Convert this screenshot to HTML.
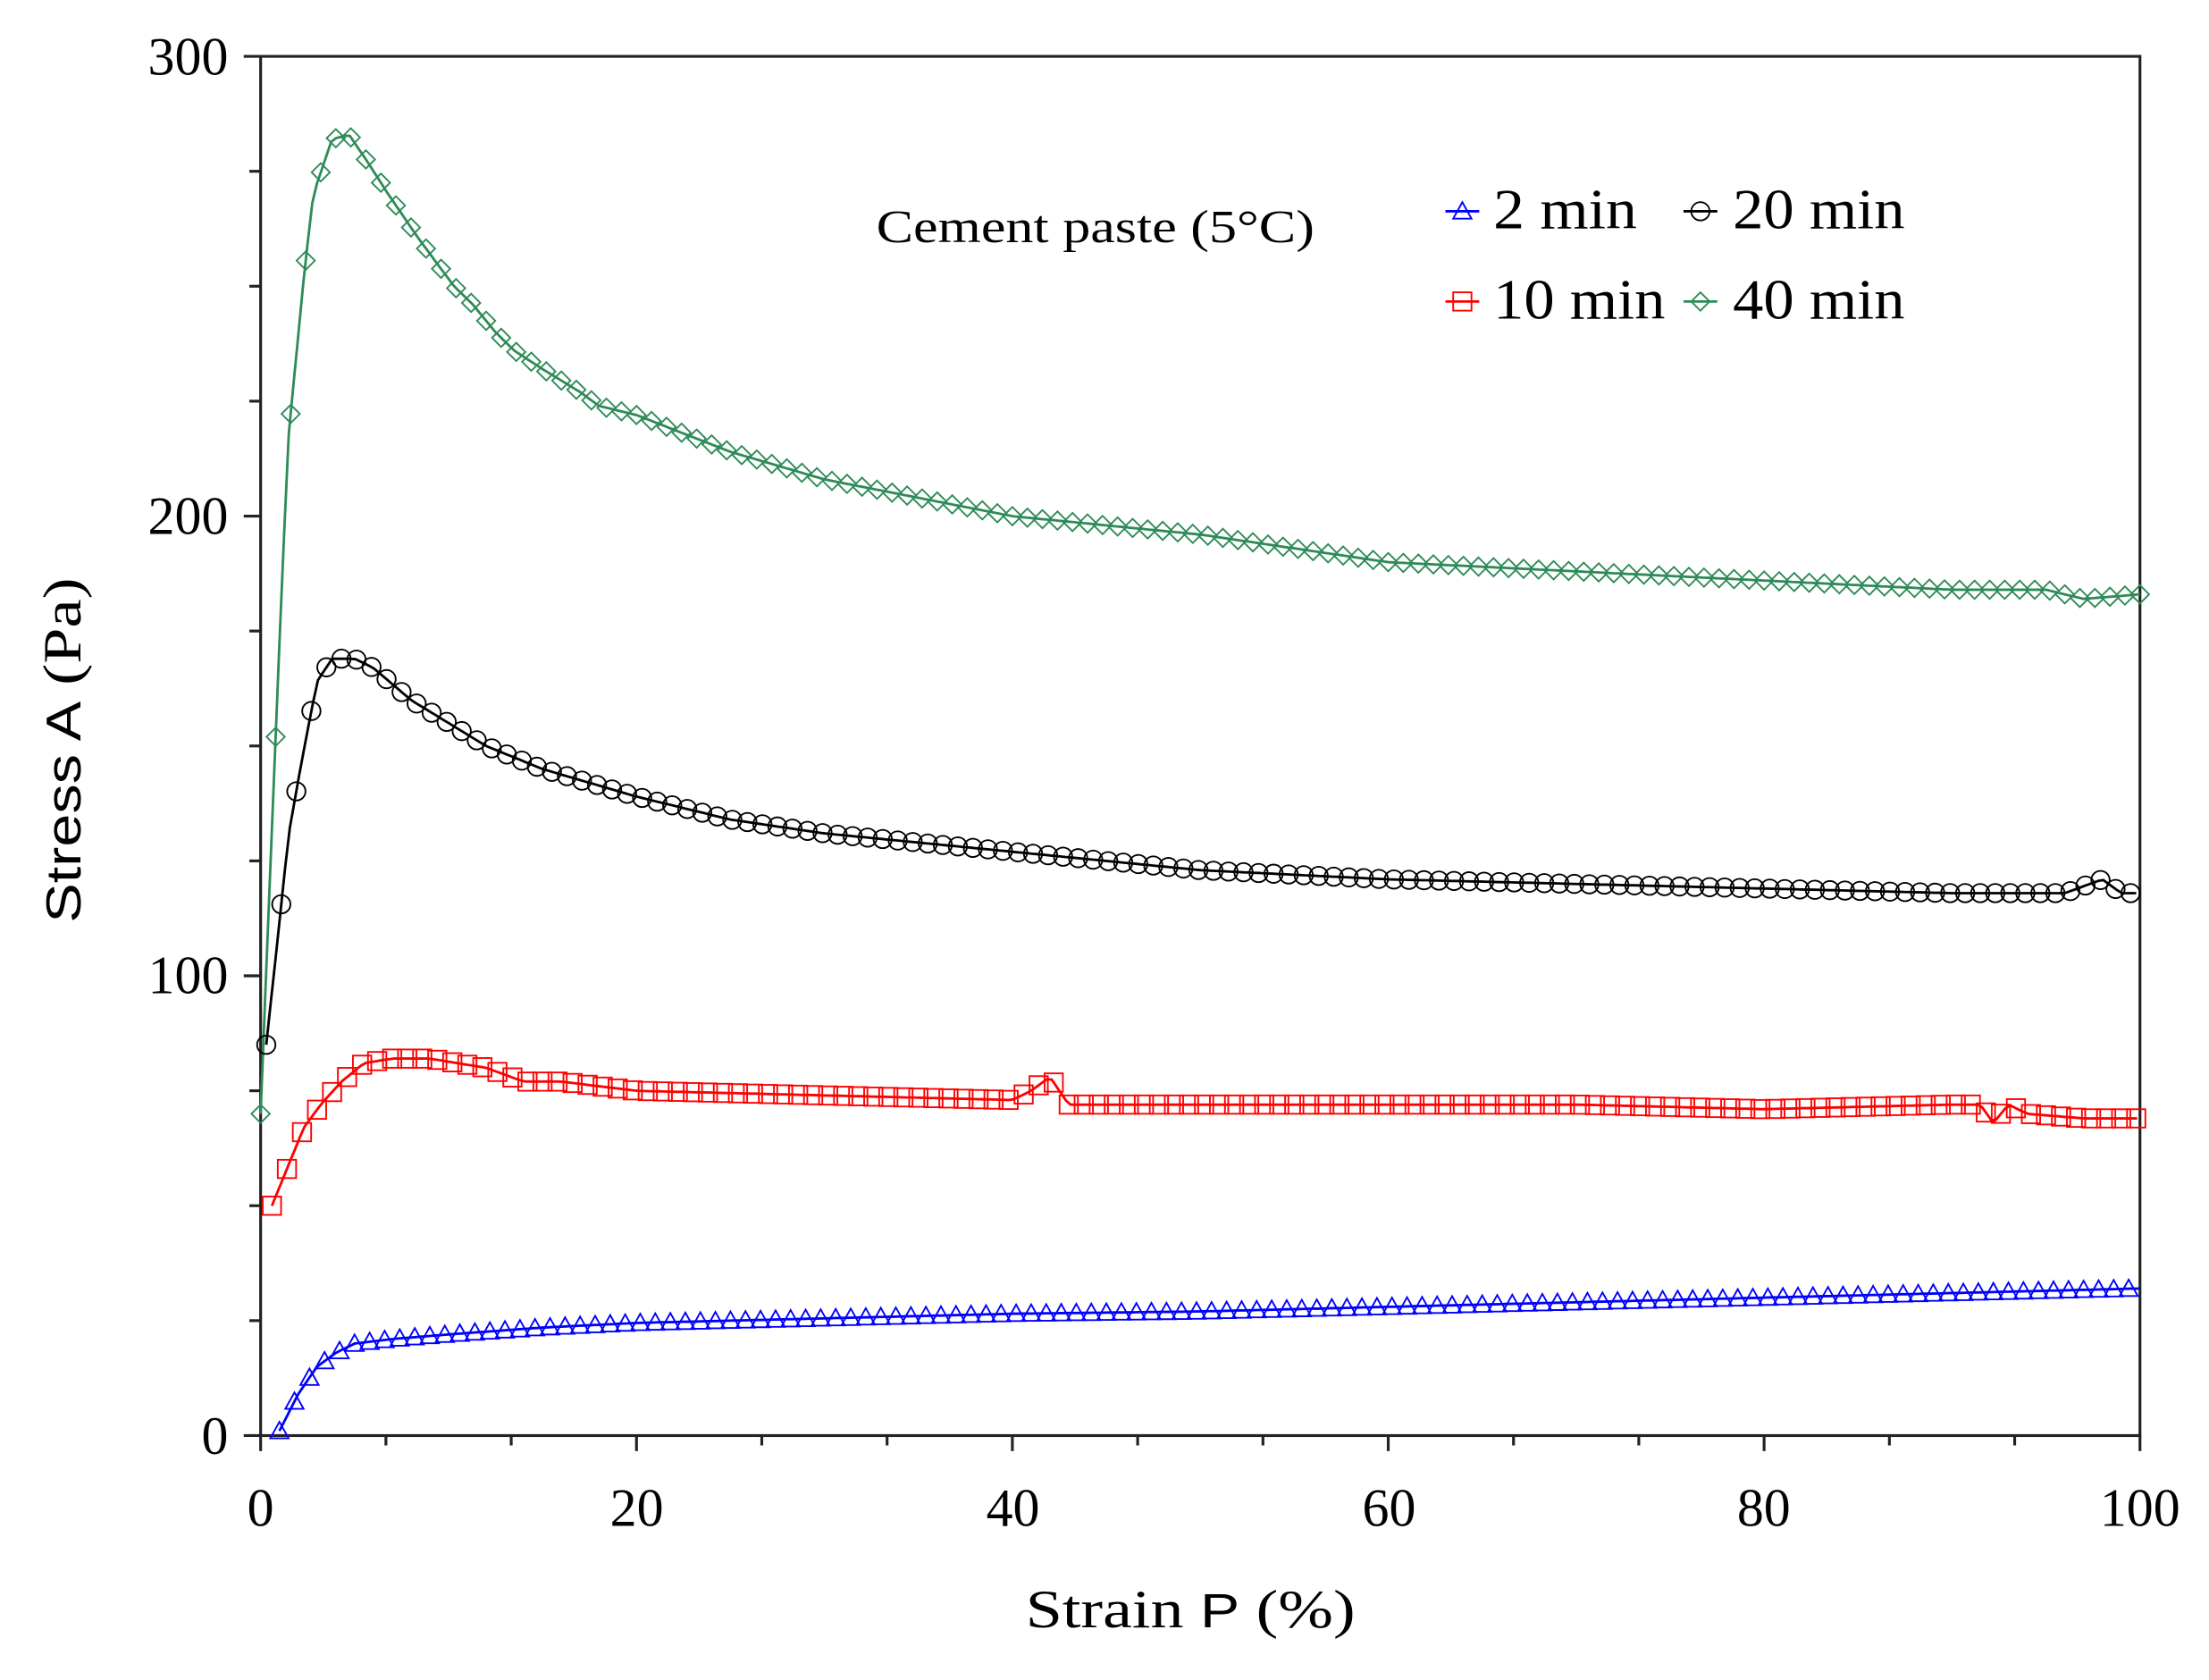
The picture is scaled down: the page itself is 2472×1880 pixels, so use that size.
<!DOCTYPE html>
<html><head><meta charset="utf-8"><style>html,body{margin:0;padding:0;background:#fff}svg{display:block}</style></head>
<body>
<svg id="s" xmlns="http://www.w3.org/2000/svg" width="2472" height="1880" viewBox="0 0 1568 1192.5" preserveAspectRatio="none" font-family="'Liberation Serif', serif">
<rect width="1568" height="1192.5" fill="#fff"/>
<g id="axes" stroke="#222" stroke-width="2" fill="none">
<rect x="185" y="40" width="1334" height="979"/>
</g>
<g id="ticks" stroke="#222" stroke-width="2"></g>
<g font-size="38" fill="#000">
<text x="162" y="1032" text-anchor="end">0</text>
<text x="162" y="705" text-anchor="end">100</text>
<text x="162" y="379" text-anchor="end">200</text>
<text x="162" y="53" text-anchor="end">300</text>
<text x="185" y="1083" text-anchor="middle">0</text>
<text x="452" y="1083" text-anchor="middle">20</text>
<text x="719" y="1083" text-anchor="middle">40</text>
<text x="986" y="1083" text-anchor="middle">60</text>
<text x="1252" y="1083" text-anchor="middle">80</text>
<text x="1519" y="1083" text-anchor="middle">100</text>
</g>
<text x="728" y="1155" font-size="38" textLength="234" lengthAdjust="spacingAndGlyphs">Strain <tspan font-family="'Liberation Sans',sans-serif" font-size="34">P</tspan> (%)</text>
<text transform="translate(57,655) rotate(-90)" font-size="38" textLength="245" lengthAdjust="spacingAndGlyphs"><tspan font-family="'Liberation Sans',sans-serif" font-size="35">Stress A</tspan> (Pa)</text>
<text x="622" y="172" font-size="33" textLength="311" lengthAdjust="spacingAndGlyphs">Cement paste (5°C)</text>
<g font-size="40">
<text x="1060" y="162" textLength="102" lengthAdjust="spacingAndGlyphs">2 min</text>
<text x="1230" y="162" textLength="122" lengthAdjust="spacingAndGlyphs">20 min</text>
<text x="1060" y="226" textLength="122" lengthAdjust="spacingAndGlyphs">10 min</text>
<text x="1230" y="226" textLength="122" lengthAdjust="spacingAndGlyphs">40 min</text>
</g>
<g id="data"></g>
</svg>
<script>
const X=v=>185+v*13.34, Y=v=>1019-v*3.263;
let t="";
for(let i=0;i<=15;i++){const x=185+i*1334/15;t+=`<line x1="${x}" y1="1019" x2="${x}" y2="${i%3==0?1030:1026}"/>`;}
for(let i=0;i<=12;i++){const y=1019-i*979/12;t+=`<line x1="185" y1="${y}" x2="${i%4==0?173:177}" y2="${y}"/>`;}
document.getElementById('ticks').innerHTML=t;
const S={
g:{c:"#2e8b57",m:"d",pts:[[0,70],[0.5,122],[0.8,152],[1.2,192],[1.5,218],[2.3,252],[2.8,270],[3.8,282],[4.7,283],[5.7,277],[6.8,270],[8.3,261],[9.2,256],[10.3,250],[11.3,246],[12.5,240],[13.5,236],[15,232],[17,227],[18,224],[20,222],[25,214],[30,208],[35,204],[40,200],[50,196],[60,190],[70,188],[80,186],[90,184],[95,184],[97,182],[100,183]]},
k:{c:"#000",m:"o",pts:[[0.3,85],[0.8,104],[1.5,131],[2.2,147],[3,164],[3.8,169],[5,169],[6,167],[8,160],[10,155],[12,150],[15,145],[20,139],[25,134],[30,131],[40,127],[50,123],[60,121],[70,120],[80,119],[90,118],[96,118],[98,121],[99,118],[100,118]]},
r:{c:"#f00",m:"s",pts:[[0.6,50],[1.3,57],[2.3,67],[3.2,72],[4.3,77],[5.5,81],[7,82],[9,82],[12,80],[14,77],[16,77],[20,75],[30,74],[40,73],[41,75],[42,78],[43,72],[50,72],[60,72],[70,72],[80,71],[90,72],[91.5,72],[92.2,68],[93,72],[94,70],[97,69],[100,69]]},
b:{c:"#00f",m:"t",pts:[[1,1],[2,9],[3,15],[4,18],[5,20],[7,21],[10,22],[15,23.5],[20,24.5],[30,25.5],[40,26.5],[50,27],[60,28],[70,29],[80,30],[90,31],[100,32]]}
};
function f(p,x){for(let i=0;i<p.length-1;i++){if(x<=p[i+1][0]){const a=p[i],b=p[i+1];return a[1]+(b[1]-a[1])*(x-a[0])/(b[0]-a[0]);}}return p[p.length-1][1];}
function mk(m,x,y,c){const r=6.5;
if(m=="d")return `<path d="M${x} ${y-r}L${x+r} ${y}L${x} ${y+r}L${x-r} ${y}Z" fill="none" stroke="${c}" stroke-width="1.2"/>`;
if(m=="o")return `<circle cx="${x}" cy="${y}" r="${r}" fill="none" stroke="${c}" stroke-width="1.2"/>`;
if(m=="s")return `<rect x="${x-r}" y="${y-r}" width="${2*r}" height="${2*r}" fill="none" stroke="${c}" stroke-width="1.2"/>`;
return `<path d="M${x} ${y-r}L${x+r} ${y+r*0.8}L${x-r} ${y+r*0.8}Z" fill="none" stroke="${c}" stroke-width="1.2"/>`;}
let h="";
for(const k in S){const s=S[k],p=s.pts;let d="";const x0=p[0][0];
for(let x=x0;x<=100.001;x+=0.25){d+=(d?"L":"M")+X(x).toFixed(1)+" "+Y(f(p,x)).toFixed(1);}
h+=`<path d="${d}" fill="none" stroke="${s.c}" stroke-width="1.8"/>`;
for(let x=x0;x<=100.001;x+=0.8){h+=mk(s.m,X(x),Y(f(p,x)),s.c);}
}
const L=[["t","#00f",1038,150],["o","#000",1207,150],["s","#f00",1038,214],["d","#2e8b57",1207,214]];
for(const l of L){h+=`<line x1="${l[2]-12}" y1="${l[3]}" x2="${l[2]+12}" y2="${l[3]}" stroke="${l[1]}" stroke-width="1.8"/>`+mk(l[0],l[2],l[3],l[1]);}
document.getElementById('data').innerHTML=h;
</script>
</body></html>
